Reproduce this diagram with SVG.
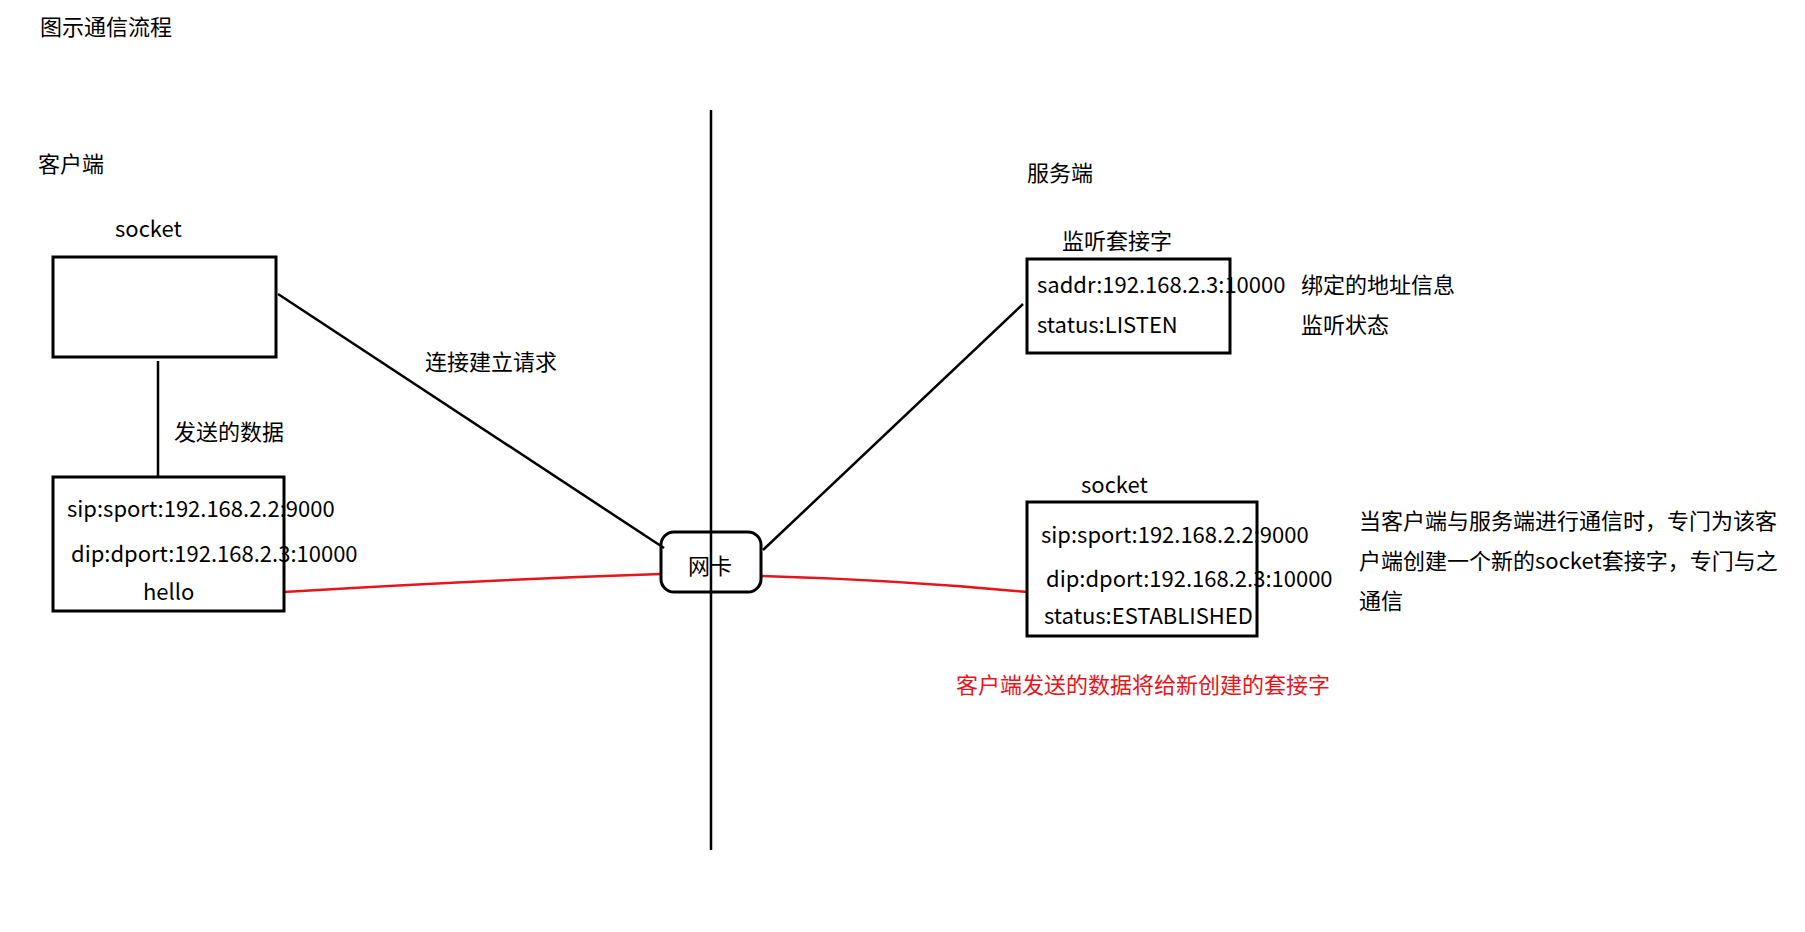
<svg xmlns="http://www.w3.org/2000/svg" width="1805" height="932" viewBox="0 0 1805 932">
<style>
text{font-family:"Noto Sans CJK SC","Noto Sans",sans-serif;font-size:22px;fill:#000}
.box{fill:none;stroke:#000;stroke-width:3}
.ln{fill:none;stroke:#000;stroke-width:2.5}
.red{fill:none;stroke:#e8141b;stroke-width:2.5}
</style>
<rect width="1805" height="932" fill="#fff"/>
<text x="40" y="35">图示通信流程</text>
<text x="38" y="172">客户端</text>
<text x="1027" y="181">服务端</text>
<g id="connectors">
<line class="ln" x1="711" y1="110" x2="711" y2="850"/>
<line class="ln" x1="158" y1="361" x2="158" y2="477"/>
<line class="ln" x1="278" y1="294" x2="664" y2="548"/>
<line class="ln" x1="763" y1="550" x2="1023" y2="304"/>
<path class="red" d="M284 592 Q480 580 661 574"/>
<path class="red" d="M761 576 Q900 580 1027 592"/>
<text x="174" y="440">发送的数据</text>
<text x="425" y="370">连接建立请求</text>
</g>
<g id="client-socket">
<text x="115" y="237">socket</text>
<rect class="box" x="53" y="257" width="223" height="100"/>
</g>
<g id="client-data">
<rect class="box" x="53" y="477" width="231" height="134"/>
<text x="67" y="517">sip:sport:192.168.2.2:9000</text>
<text x="71" y="562">dip:dport:192.168.2.3:10000</text>
<text x="143" y="600">hello</text>
</g>
<g id="nic">
<rect class="box" x="661" y="532" width="100" height="60" rx="13"/>
<text x="688" y="574">网卡</text>
</g>
<g id="listen-socket">
<text x="1062" y="249">监听套接字</text>
<rect class="box" x="1027" y="259" width="203" height="94"/>
<text x="1037" y="293">saddr:192.168.2.3:10000</text>
<text x="1037" y="333">status:LISTEN</text>
<text x="1301" y="293">绑定的地址信息</text>
<text x="1301" y="333">监听状态</text>
</g>
<g id="conn-socket">
<text x="1081" y="493">socket</text>
<rect class="box" x="1027" y="502" width="230" height="134"/>
<text x="1041" y="543">sip:sport:192.168.2.2:9000</text>
<text x="1046" y="587">dip:dport:192.168.2.3:10000</text>
<text x="1044" y="624">status:ESTABLISHED</text>
</g>
<g id="note">
<text x="1359" y="529">当客户端与服务端进行通信时，专门为该客</text>
<text x="1359" y="569">户端创建一个新的socket套接字，专门与之</text>
<text x="1359" y="609">通信</text>
</g>
<text x="956" y="693" style="fill:#e8141b">客户端发送的数据将给新创建的套接字</text>
</svg>
